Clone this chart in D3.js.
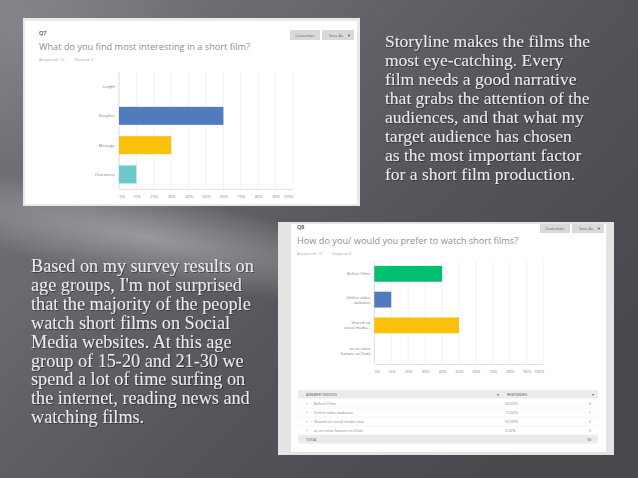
<!DOCTYPE html>
<html><head><meta charset="utf-8">
<script src="https://cdn.jsdelivr.net/npm/d3@7"></script>
<style>html,body{margin:0;padding:0;background:#5a5960;}svg{display:block;}</style>
</head><body>
<script>
// ---------- data ----------
const q7Categories = ["Length", "Storyline", "Message", "Characters"];
const q7Values = [0, 60, 30, 10];
const q8Categories = ["Before Films", "Online video websites", "Shared on social media sites", "as an extra feature on Dvds"];
const q8AxisLabels = [["Before Films"], ["Online video", "websites"], ["Shared on", "social media..."], ["as an extra", "feature on Dvds"]];
const q8Values = [40, 10, 50, 0];
const q8Counts = [4, 1, 5, 0];
const q8Total = 10;
const tickValues = [0, 10, 20, 30, 40, 50, 60, 70, 80, 90, 100];
const tickLabels = ["0%", "10%", "20%", "30%", "40%", "50%", "60%", "70%", "80%", "90%", "100%"];
const rightText = ["Storyline makes the films the", "most eye-catching. Every", "film needs a good narrative", "that grabs the attention of the", "audiences, and that what my", "target audience has chosen", "as the most important factor", "for a short film production."];
const leftText = ["Based on my survey results on", "age groups, I'm not surprised", "that the majority of the people", "watch short films on Social", "Media websites. At this age", "group of 15-20 and 21-30 we", "spend a lot of time surfing on", "the internet, reading news and", "watching films."];

const q7Colors = ["#ffffff", "#517bbd", "#fbc009", "#6dc8cc"];
const q8Colors = ["#00bf6f", "#517bbd", "#fbc009", "#ffffff"];

const W = 638, H = 478;
const svg = d3.select("body").append("svg").attr("width", W).attr("height", H);
const defs = svg.append("defs");

// background
const bg = defs.append("linearGradient").attr("id", "bg").attr("x1", 0).attr("y1", 0).attr("x2", 1).attr("y2", 0.7);
[[0, "#77757c"], [0.3, "#6b6970"], [0.6, "#57565c"], [1, "#48474c"]].forEach(s => bg.append("stop").attr("offset", s[0]).attr("stop-color", s[1]));
svg.append("rect").attr("width", W).attr("height", H).attr("fill", "url(#bg)");
const streak = defs.append("radialGradient").attr("id", "streak");
streak.append("stop").attr("offset", 0).attr("stop-color", "#ffffff").attr("stop-opacity", 0.34);
streak.append("stop").attr("offset", 1).attr("stop-color", "#ffffff").attr("stop-opacity", 0);
svg.append("ellipse").attr("cx", 150).attr("cy", 238).attr("rx", 270).attr("ry", 45)
  .attr("transform", "rotate(10 150 238)").attr("fill", "url(#streak)");
const tl = defs.append("radialGradient").attr("id", "tl");
tl.append("stop").attr("offset", 0).attr("stop-color", "#ffffff").attr("stop-opacity", 0.12);
tl.append("stop").attr("offset", 1).attr("stop-color", "#ffffff").attr("stop-opacity", 0);
svg.append("ellipse").attr("cx", 20).attr("cy", 20).attr("rx", 200).attr("ry", 150).attr("fill", "url(#tl)");

const shadow = defs.append("filter").attr("id", "ts").attr("x", -0.1).attr("y", -0.3).attr("width", 1.2).attr("height", 1.6);
shadow.append("feDropShadow").attr("dx", 1).attr("dy", 1).attr("stdDeviation", 0.6).attr("flood-color", "#000").attr("flood-opacity", 0.4);

// slide text
function textBlock(lines, x, y0, lh, size) {
  const g = svg.append("g").attr("filter", "url(#ts)");
  g.selectAll("text").data(lines).join("text")
    .attr("x", x).attr("y", (d, i) => y0 + i * lh)
    .attr("font-family", "'Liberation Serif', serif").attr("font-size", size)
    .attr("fill", "#ececec").text(d => d);
}
textBlock(rightText, 385, 47, 19, 17.5);
textBlock(leftText, 31, 272, 18.9, 18.2);

const sans = "'Open Sans', sans-serif";

function header(g, q, title, x, y) {
  g.append("text").attr("x", x).attr("y", y).attr("font-family", sans).attr("font-size", 5.5).attr("font-weight", 600).attr("fill", "#444").text(q);
  g.append("text").attr("x", x).attr("y", y + 15).attr("font-family", sans).attr("font-size", 9.2).attr("fill", "#8f8f8f").text(title);
  g.append("text").attr("x", x).attr("y", y + 25.5).attr("font-family", sans).attr("font-size", 4).attr("fill", "#aaa").text("Answered: 10");
  g.append("text").attr("x", x + 35).attr("y", y + 25.5).attr("font-family", sans).attr("font-size", 4).attr("fill", "#aaa").text("Skipped: 0");
}
function buttons(g, x, y, h) {
  g.append("rect").attr("x", x).attr("y", y).attr("width", 30).attr("height", h).attr("fill", "#d9d9d9");
  g.append("text").attr("x", x + 15).attr("y", y + h / 2 + 1.5).attr("text-anchor", "middle").attr("font-family", sans).attr("font-size", 4).attr("fill", "#666").text("Customize");
  g.append("rect").attr("x", x + 32).attr("y", y).attr("width", 32).attr("height", h).attr("fill", "#d9d9d9");
  g.append("text").attr("x", x + 46).attr("y", y + h / 2 + 1.5).attr("text-anchor", "middle").attr("font-family", sans).attr("font-size", 4).attr("fill", "#666").text("Save As");
  g.append("text").attr("x", x + 59).attr("y", y + h / 2 + 1.5).attr("text-anchor", "middle").attr("font-family", sans).attr("font-size", 4).attr("fill", "#555").text("▼");
}

function barChart(g, cats, labels, vals, colors, x0, x1, y0, y1) {
  const x = d3.scaleLinear().domain([0, 100]).range([x0, x1]);
  const y = d3.scaleBand().domain(cats).range([y0, y1]).paddingInner(0.385).paddingOuter(0.19);
  g.append("g").selectAll("line").data(tickValues).join("line")
    .attr("x1", d => x(d)).attr("x2", d => x(d)).attr("y1", y0).attr("y2", y1)
    .attr("stroke", "#ececec").attr("stroke-width", 0.7);
  g.append("line").attr("x1", x0).attr("x2", x0).attr("y1", y0).attr("y2", y1).attr("stroke", "#dcdcdc").attr("stroke-width", 0.8);
  g.append("g").selectAll("rect").data(cats).join("rect")
    .attr("x", x(0)).attr("y", d => y(d)).attr("height", y.bandwidth())
    .attr("width", (d, i) => x(vals[i]) - x(0)).attr("fill", (d, i) => colors[i]);
  const ax = g.append("g").attr("transform", `translate(0,${y1})`)
    .call(d3.axisBottom(x).tickValues(tickValues).tickFormat((d, i) => tickLabels[i]).tickSize(0).tickPadding(6));
  ax.select(".domain").attr("stroke", "#dcdcdc").attr("stroke-width", 0.8);
  ax.selectAll("text").attr("font-family", sans).attr("font-size", 4).attr("fill", "#888")
    .attr("text-anchor", (d, i) => i === 0 ? "start" : (i === tickValues.length - 1 ? "end" : "middle"));
  const ly = g.append("g");
  cats.forEach((c, i) => {
    const ls = labels[i];
    const cy = y(c) + y.bandwidth() / 2;
    ls.forEach((t, j) => {
      ly.append("text").attr("x", x0 - 4).attr("y", cy + 1.5 + (j - (ls.length - 1) / 2) * 5)
        .attr("text-anchor", "end").attr("font-family", sans).attr("font-size", 4).attr("fill", "#777").text(t);
    });
  });
}

// ---------- panel 1 ----------
const p1 = svg.append("g");
p1.append("rect").attr("x", 23).attr("y", 18).attr("width", 337).attr("height", 188).attr("fill", "#e9e9ea");
p1.append("rect").attr("x", 25).attr("y", 21).attr("width", 332).attr("height", 183).attr("fill", "#ffffff");
header(p1, "Q7", "What do you find most interesting in a short film?", 39, 35);
buttons(p1, 290, 30, 10);
barChart(p1, q7Categories, q7Categories.map(c => [c]), q7Values, q7Colors, 119, 293, 72, 189);

// ---------- panel 2 ----------
const p2 = svg.append("g");
p2.append("rect").attr("x", 278).attr("y", 222).attr("width", 336).attr("height", 233).attr("fill", "#e4e4e5");
p2.append("rect").attr("x", 291).attr("y", 224).attr("width", 315).attr("height", 228).attr("fill", "#ffffff");
header(p2, "Q8", "How do you/ would you prefer to watch short films?", 297, 229);
buttons(p2, 540, 224, 9);
barChart(p2, q8Categories, q8AxisLabels, q8Values, q8Colors, 374.3, 543.7, 261, 364);

// table
const tb = p2.append("g");
const tx0 = 298, tx1 = 598;
tb.append("rect").attr("x", tx0).attr("y", 390).attr("width", tx1 - tx0).attr("height", 8.5).attr("fill", "#ebebeb");
const th = (t, x, anchor) => tb.append("text").attr("x", x).attr("y", 395.8).attr("text-anchor", anchor || "start").attr("font-family", sans).attr("font-size", 3.6).attr("font-weight", 600).attr("fill", "#777").text(t);
th("ANSWER CHOICES", 306); th("▼", 498, "middle"); th("RESPONSES", 507); th("▼", 593, "middle");
const rowY = d3.scaleBand().domain(q8Categories).range([399, 435]);
q8Categories.forEach((c, i) => {
  const cy = rowY(c) + rowY.bandwidth() / 2 + 1.3;
  const t = (s, x, anchor) => tb.append("text").attr("x", x).attr("y", cy).attr("text-anchor", anchor || "start").attr("font-family", sans).attr("font-size", 3.8).attr("fill", "#888").text(s);
  t("•", 306); t(c, 314); t(q8Values[i].toFixed(2) + "%", 505); t(String(q8Counts[i]), 591, "end");
  tb.append("line").attr("x1", tx0).attr("x2", tx1).attr("y1", rowY(c) + rowY.bandwidth()).attr("y2", rowY(c) + rowY.bandwidth()).attr("stroke", "#eeeeee").attr("stroke-width", 0.6);
});
tb.append("rect").attr("x", tx0).attr("y", 435).attr("width", tx1 - tx0).attr("height", 8.5).attr("fill", "#ebebeb");
tb.append("text").attr("x", 306).attr("y", 440.8).attr("font-family", sans).attr("font-size", 3.6).attr("font-weight", 600).attr("fill", "#777").text("TOTAL");
tb.append("text").attr("x", 591).attr("y", 440.8).attr("text-anchor", "end").attr("font-family", sans).attr("font-size", 3.6).attr("font-weight", 600).attr("fill", "#777").text(String(q8Total));
</script>
</body></html>
